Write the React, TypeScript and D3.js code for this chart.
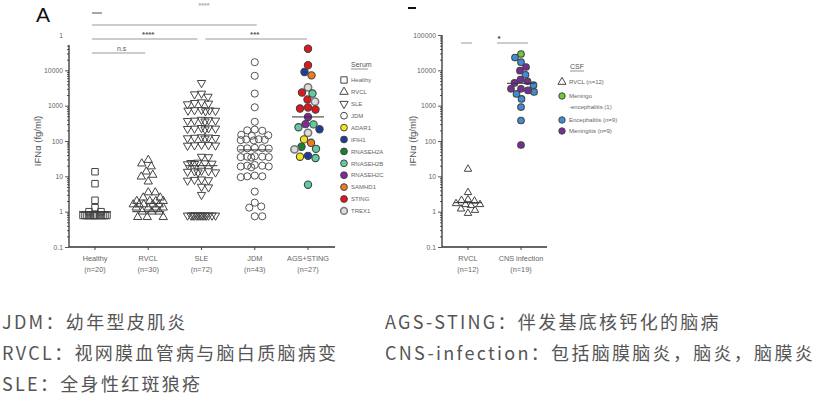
import { useMemo, useEffect, useRef } from "react";
import * as d3 from "d3";

const width = 819;
const height = 405;
const chartFont = "'Liberation Sans', Arial, sans-serif";
const cjkFont = "'Noto Sans CJK SC', 'Noto Sans', sans-serif";

// categories and tick labels
const serumGroups = ["Healthy", "RVCL", "SLE", "JDM", "AGS+STING"];
const serumCounts = ["(n=20)", "(n=30)", "(n=72)", "(n=43)", "(n=27)"];
const csfGroups = ["RVCL", "CNS infection"];
const csfCounts = ["(n=12)", "(n=19)"];
const tickValues = [0.1, 1, 10, 100, 1000, 10000, 100000];
const leftTickLabels = ["0.1", "1", "10", "100", "1000", "10000", "1"];
const rightTickLabels = ["0.1", "1", "10", "100", "1000", "10000", "100000"];

// serum values (fg/ml)
const healthyVals = [13.5, 6.2, 2.1, 1.3, 1.0, 1.0, 0.78, 0.78, 0.78, 0.78, 0.78, 0.78, 0.78, 0.78, 0.78, 0.78, 0.78, 0.78, 0.78, 0.78];
const rvclVals = [29, 23, 19, 13.6, 11, 9.8, 7.1, 3.5, 3.5, 2.5, 2.5, 2.0, 2.0, 2.0, 2.0, 1.6, 1.6, 1.6, 1.6, 1.6, 1.3, 1.3, 1.3, 1.3, 1.0, 1.0, 1.0, 0.7, 0.7, 0.7];
const sleVals = [4400, 2200, 2100, 1800, 1250, 1200, 1150, 1100, 760, 750, 740, 730, 720, 700, 400, 390, 380, 380, 370, 360, 235, 230, 225, 225, 220, 215, 128, 126, 124, 122, 120, 118, 78, 77, 76, 75, 74, 36, 35, 24.5, 24, 23.5, 23, 22.5, 22, 14.5, 14, 14, 13.5, 13, 13, 8.2, 8, 7.8, 7.6, 5.1, 4.9, 3, 0.78, 0.78, 0.78, 0.78, 0.78, 0.78, 0.78, 0.78, 0.78, 0.78, 0.78, 0.78, 0.78, 0.78];
const jdmVals = [17000, 7000, 2200, 900, 350, 210, 200, 195, 150, 145, 140, 112, 110, 108, 106, 104, 64, 63, 62, 61, 60, 37, 36, 36, 35, 35, 34, 21, 20, 20, 19, 19, 18, 10.5, 10, 10, 9.5, 3.7, 1.8, 1.4, 1.3, 0.74, 0.74];
const agsVals = [41000, 14000, 9000, 7200, 3300, 2200, 2350, 1500, 1300, 830, 780, 890, 480, 295, 245, 300, 214, 170, 111, 89, 69, 60, 58, 36, 33, 38, 5.8];
const agsGenes = ["STING", "STING", "IFIH1", "SAMHD1", "TREX1", "RNASEH2B", "STING", "STING", "TREX1", "STING", "STING", "STING", "RNASEH2C", "RNASEH2B", "RNASEH2B", "RNASEH2C", "IFIH1", "TREX1", "ADAR1", "SAMHD1", "RNASEH2A", "RNASEH2B", "TREX1", "ADAR1", "RNASEH2B", "IFIH1", "RNASEH2B"];
const serumLines = [1.0, 1.0, 20, 56, 480];

// csf values (fg/ml)
const rvclCsfVals = [16, 3.5, 2.2, 2.1, 2.0, 1.7, 1.6, 1.6, 1.5, 1.2, 1.1, 0.9];
const cnsVals = [29000, 23000, 17000, 12400, 9800, 7500, 4900, 5500, 3800, 4400, 3000, 2450, 3000, 2150, 2700, 1550, 910, 380, 77];
const cnsTypes = ["Meningo", "Enc", "Enc", "Men", "Men", "Enc", "Men", "Men", "Enc", "Men", "Men", "Enc", "Men", "Enc", "Men", "Enc", "Enc", "Enc", "Men"];
const csfLines = [1.8, 4300];

const geneColors: Record<string, string> = {
  ADAR1: "#f3e41c",
  IFIH1: "#1c3d9c",
  RNASEH2A: "#1b7e35",
  RNASEH2B: "#5ecba0",
  RNASEH2C: "#80299d",
  SAMHD1: "#ee7c1e",
  STING: "#e2141c",
  TREX1: "#dedede",
};
const csfColors: Record<string, string> = { Meningo: "#6cc93c", Enc: "#3f8dd5", Men: "#7a2b9b" };

const serumLegend = ["Healthy", "RVCL", "SLE", "JDM", "ADAR1", "IFIH1", "RNASEH2A", "RNASEH2B", "RNASEH2C", "SAMHD1", "STING", "TREX1"];
const serumLegendShapes = ["square", "triangle", "down", "circle", "circle", "circle", "circle", "circle", "circle", "circle", "circle", "circle"];

const notes = [
  ["JDM：幼年型皮肌炎", "AGS-STING：伴发基底核钙化的脑病"],
  ["RVCL：视网膜血管病与脑白质脑病变", "CNS-infection：包括脑膜脑炎，脑炎，脑膜炎"],
  ["SLE：全身性红斑狼疮", ""],
];

const yScale = d3.scaleLog().domain([0.1, 100000]).range([247, 35]);

// simple beeswarm: top-down, closest free slot to the centre, least overlap when full
function swarm(values: number[], d: number, half: number) {
  const order = d3.range(values.length).sort((a, b) => values[b] - values[a]);
  const placed: { x: number; y: number }[] = [];
  const xs = new Array(values.length).fill(0);
  const cands = d3.range(-half, half + 0.01, 0.5);
  let flip = 0;
  order.forEach((i) => {
    const yi = yScale(values[i]);
    const free: number[] = [];
    let best = 0;
    let bestScore = -1;
    cands.forEach((cx) => {
      let m = Infinity;
      placed.forEach((p) => {
        const dd = Math.hypot(p.x - cx, p.y - yi);
        if (dd < m) m = dd;
      });
      if (m >= d) free.push(cx);
      if (m > bestScore + 1e-6 || (Math.abs(m - bestScore) < 1e-6 && Math.abs(cx) < Math.abs(best))) {
        bestScore = m;
        best = cx;
      }
    });
    let x = best;
    if (free.length) {
      const minAbs = d3.min(free, (f) => Math.abs(f)) as number;
      const ties = free.filter((f) => Math.abs(Math.abs(f) - minAbs) < 1e-6);
      x = ties.length > 1 ? (flip % 2 ? ties[ties.length - 1] : ties[0]) : ties[0];
      if (x !== 0) flip++;
    }
    placed.push({ x, y: yi });
    xs[i] = x;
  });
  return xs;
}

const symbolPath = (shape: string, size: number) => {
  if (shape === "square") return d3.symbol(d3.symbolSquare, size)() as string;
  if (shape === "triangle" || shape === "down") return d3.symbol(d3.symbolTriangle, size)() as string;
  return d3.symbol(d3.symbolCircle, size)() as string;
};

type Pt = { x: number; y: number; shape: string; fill: string; stroke: string; sw: number; size: number };

const openStyle = { fill: "none", stroke: "#444", sw: 1 };

const App = () => {
  const leftAxisRef = useRef<SVGGElement>(null);
  const rightAxisRef = useRef<SVGGElement>(null);

  const xLeft = d3.scalePoint().domain(serumGroups).range([95, 308]);
  const xRight = d3.scalePoint().domain(csfGroups).range([468, 521]);

  const points = useMemo(() => {
    const out: Pt[] = [];
    const add = (vals: number[], cx: number, shape: string, d: number, half: number, size: number, style: (i: number) => { fill: string; stroke: string; sw: number }) => {
      const xs = swarm(vals, d, half);
      vals.forEach((v, i) => out.push({ x: cx + xs[i], y: yScale(v), shape, size, ...style(i) }));
    };
    add(healthyVals, xLeft("Healthy")!, "square", 7, 13, 42, () => openStyle);
    add(rvclVals, xLeft("RVCL")!, "triangle", 7, 15, 30, () => openStyle);
    add(sleVals, xLeft("SLE")!, "down", 6.8, 14, 30, () => openStyle);
    add(jdmVals, xLeft("JDM")!, "circle", 7.4, 14, 40, () => ({ fill: "none", stroke: "#555", sw: 1 }));
    add(agsVals, xLeft("AGS+STING")!, "circle", 7.6, 13.5, 42, (i) => ({
      fill: geneColors[agsGenes[i]],
      stroke: agsGenes[i] === "TREX1" ? "#777" : "#444",
      sw: agsGenes[i] === "TREX1" ? 1.6 : 1.1,
    }));
    add(rvclCsfVals, xRight("RVCL")!, "triangle", 6.2, 13, 24, () => openStyle);
    add(cnsVals, xRight("CNS infection")!, "circle", 6.8, 13, 34, (i) => ({ fill: csfColors[cnsTypes[i]], stroke: "#444", sw: 1.1 }));
    return out;
  }, []);

  useEffect(() => {
    const minor: number[] = [];
    for (let e = -1; e < 5; e++) for (let k = 2; k <= 9; k++) minor.push(k * Math.pow(10, e));
    const draw = (node: SVGGElement | null, labels: string[], topY: number) => {
      if (!node) return;
      const g = d3.select(node);
      g.selectAll("*").remove();
      const major = g.append("g").call(
        d3.axisLeft(yScale).tickValues(tickValues).tickFormat((_, i) => labels[i]).tickSize(4).tickPadding(2).tickSizeOuter(0)
      );
      const small = g.append("g").call(
        d3.axisLeft(yScale).tickValues(minor.filter((m) => yScale(m) > topY)).tickFormat(() => "").tickSize(2).tickSizeOuter(0)
      );
      [major, small].forEach((a) => {
        a.attr("font-size", 6.8).attr("font-family", chartFont);
        a.select(".domain").remove();
        a.selectAll("line").attr("stroke", "#444").attr("stroke-width", 0.9);
        a.selectAll("text").attr("fill", "#666");
      });
      major.selectAll<SVGGElement, number>(".tick").filter((v) => yScale(v) < topY).select("line").remove();
      g.append("line").attr("x1", 0).attr("x2", 0).attr("y1", topY).attr("y2", yScale(0.1)).attr("stroke", "#333").attr("stroke-width", 1.3);
    };
    draw(leftAxisRef.current, leftTickLabels, 45);
    draw(rightAxisRef.current, rightTickLabels, 35);
  }, []);

  const sig = { stroke: "#999", strokeWidth: 1 };
  const sigText = { fontSize: 8, fill: "#555", fontFamily: chartFont, textAnchor: "middle" as const, fontWeight: 700 };
  const catText = { textAnchor: "middle" as const, fontSize: 7.3, fontFamily: chartFont, fill: "#666" };

  return (
    <svg width={width} height={height} style={{ position: "absolute", left: 0, top: 0, background: "#fff" }}>
      <text x={36} y={22} fontSize={21} fontFamily={chartFont} fill="#111">A</text>

      {/* significance bars */}
      <text x={204} y={8} {...sigText} fill="#aaa" fontSize={7}>****</text>
      <line x1={xLeft("Healthy")! - 3} x2={xLeft("Healthy")! + 7} y1={13} y2={13} stroke="#777" strokeWidth={1.3} />
      <line x1={xLeft("Healthy")! - 3} x2={xLeft("JDM")! + 2} y1={25} y2={25} {...sig} />
      <line x1={xLeft("Healthy")! - 3} x2={xLeft("SLE")! - 4} y1={39} y2={39} {...sig} />
      <text x={(xLeft("Healthy")! + xLeft("SLE")!) / 2} y={37} {...sigText}>****</text>
      <line x1={xLeft("SLE")! + 4} x2={xLeft("AGS+STING")! - 1} y1={39} y2={39} {...sig} />
      <text x={xLeft("JDM")!} y={37} {...sigText}>***</text>
      <line x1={xLeft("Healthy")! - 3} x2={xLeft("RVCL")! - 3} y1={53} y2={53} {...sig} />
      <text x={(xLeft("Healthy")! + xLeft("RVCL")!) / 2} y={51} {...sigText} fontSize={7} fontWeight={400}>n.s</text>

      <line x1={408} x2={416} y1={8} y2={8} stroke="#111" strokeWidth={2} />
      <line x1={xRight("RVCL")! - 7} x2={xRight("RVCL")! + 4} y1={43} y2={43} {...sig} />
      <text x={xRight("RVCL")! + 31} y={41} {...sigText} fill="#333">*</text>
      <line x1={xRight("RVCL")! + 29} x2={xRight("CNS infection")! + 7} y1={43} y2={43} {...sig} />

      {/* axes */}
      <g ref={leftAxisRef} transform="translate(69,0)" />
      <g ref={rightAxisRef} transform="translate(442,0)" />
      <line x1={69} x2={335} y1={247} y2={247} stroke="#333" strokeWidth={1.3} />
      <line x1={442} x2={547} y1={247} y2={247} stroke="#333" strokeWidth={1.3} />
      {serumGroups.map((g, i) => (
        <g key={g} transform={`translate(${xLeft(g)},247)`}>
          <line y1={0} y2={3} stroke="#444" />
          <text y={14} {...catText}>{g}</text>
          <text y={24.5} {...catText}>{serumCounts[i]}</text>
        </g>
      ))}
      {csfGroups.map((g, i) => (
        <g key={g} transform={`translate(${xRight(g)},247)`}>
          <line y1={0} y2={3} stroke="#444" />
          <text y={14} {...catText}>{g}</text>
          <text y={24.5} {...catText}>{csfCounts[i]}</text>
        </g>
      ))}
      <text transform="translate(41,141) rotate(-90)" textAnchor="middle" fontSize={9.5} fontFamily={chartFont} fill="#555">IFNα (fg/ml)</text>
      <text transform="translate(416,141) rotate(-90)" textAnchor="middle" fontSize={9.5} fontFamily={chartFont} fill="#555">IFNα (fg/ml)</text>

      {/* points */}
      {points.map((p, i) => (
        <path
          key={i}
          d={symbolPath(p.shape, p.size)}
          transform={`translate(${p.x},${p.y})${p.shape === "down" ? " rotate(180)" : ""}`}
          fill={p.fill}
          stroke={p.stroke}
          strokeWidth={p.sw}
        />
      ))}

      {/* centre lines */}
      {serumGroups.map((g, i) => (
        <line key={g} x1={xLeft(g)! - 16} x2={xLeft(g)! + 16} y1={yScale(serumLines[i])} y2={yScale(serumLines[i])} stroke="#333" strokeWidth={1} />
      ))}
      {csfGroups.map((g, i) => (
        <line key={g} x1={xRight(g)! - 14} x2={xRight(g)! + 14} y1={yScale(csfLines[i])} y2={yScale(csfLines[i])} stroke="#333" strokeWidth={1} />
      ))}

      {/* serum legend */}
      <text x={351} y={67} fontSize={7} fontFamily={chartFont} fill="#555">Serum</text>
      <line x1={351} x2={368} y1={69} y2={69} stroke="#666" strokeWidth={0.7} />
      {serumLegend.map((name, i) => {
        const y = 80 + i * 11.9;
        const isGene = i >= 4;
        const shape = serumLegendShapes[i];
        return (
          <g key={name} transform={`translate(344,${y})`}>
            <path
              d={symbolPath(shape, shape === "circle" ? 36 : shape === "square" ? 40 : 30)}
              transform={shape === "down" ? "rotate(180)" : undefined}
              fill={isGene ? geneColors[name] : "#fff"}
              stroke={name === "TREX1" ? "#777" : "#444"}
              strokeWidth={name === "TREX1" ? 1.5 : 1}
            />
            <text x={7} y={2.2} fontSize={6} fontFamily={chartFont} fill="#666">{name}</text>
          </g>
        );
      })}

      {/* csf legend */}
      <text x={570} y={69} fontSize={7} fontFamily={chartFont} fill="#555">CSF</text>
      <line x1={570} x2={584} y1={71} y2={71} stroke="#666" strokeWidth={0.7} />
      <g transform="translate(562,82)">
        <path d={symbolPath("triangle", 28)} fill="#fff" stroke="#444" />
        <text x={7} y={2.2} fontSize={6} fontFamily={chartFont} fill="#666">RVCL (n=12)</text>
      </g>
      <g transform="translate(562,96)">
        <circle r={3.2} fill={csfColors.Meningo} stroke="#444" />
        <text x={7} y={2.2} fontSize={6} fontFamily={chartFont} fill="#666">Meningo</text>
        <text x={7} y={13} fontSize={6} fontFamily={chartFont} fill="#666">-encephalitis (1)</text>
      </g>
      <g transform="translate(562,120)">
        <circle r={3.2} fill={csfColors.Enc} stroke="#444" />
        <text x={7} y={2.2} fontSize={6} fontFamily={chartFont} fill="#666">Encephalitis (n=9)</text>
      </g>
      <g transform="translate(562,131)">
        <circle r={3.2} fill={csfColors.Men} stroke="#444" />
        <text x={7} y={2.2} fontSize={6} fontFamily={chartFont} fill="#666">Meningitis (n=9)</text>
      </g>

      {/* notes */}
      {notes.map((row, r) =>
        row.map((t, c) =>
          t ? (
            <text key={`${r}-${c}`} x={c === 0 ? 2 : 385} y={329 + r * 31} fontSize={18} fontFamily={cjkFont} fill="#555" letterSpacing={2.3}>
              {t}
            </text>
          ) : null
        )
      )}
    </svg>
  );
};

export default App;
